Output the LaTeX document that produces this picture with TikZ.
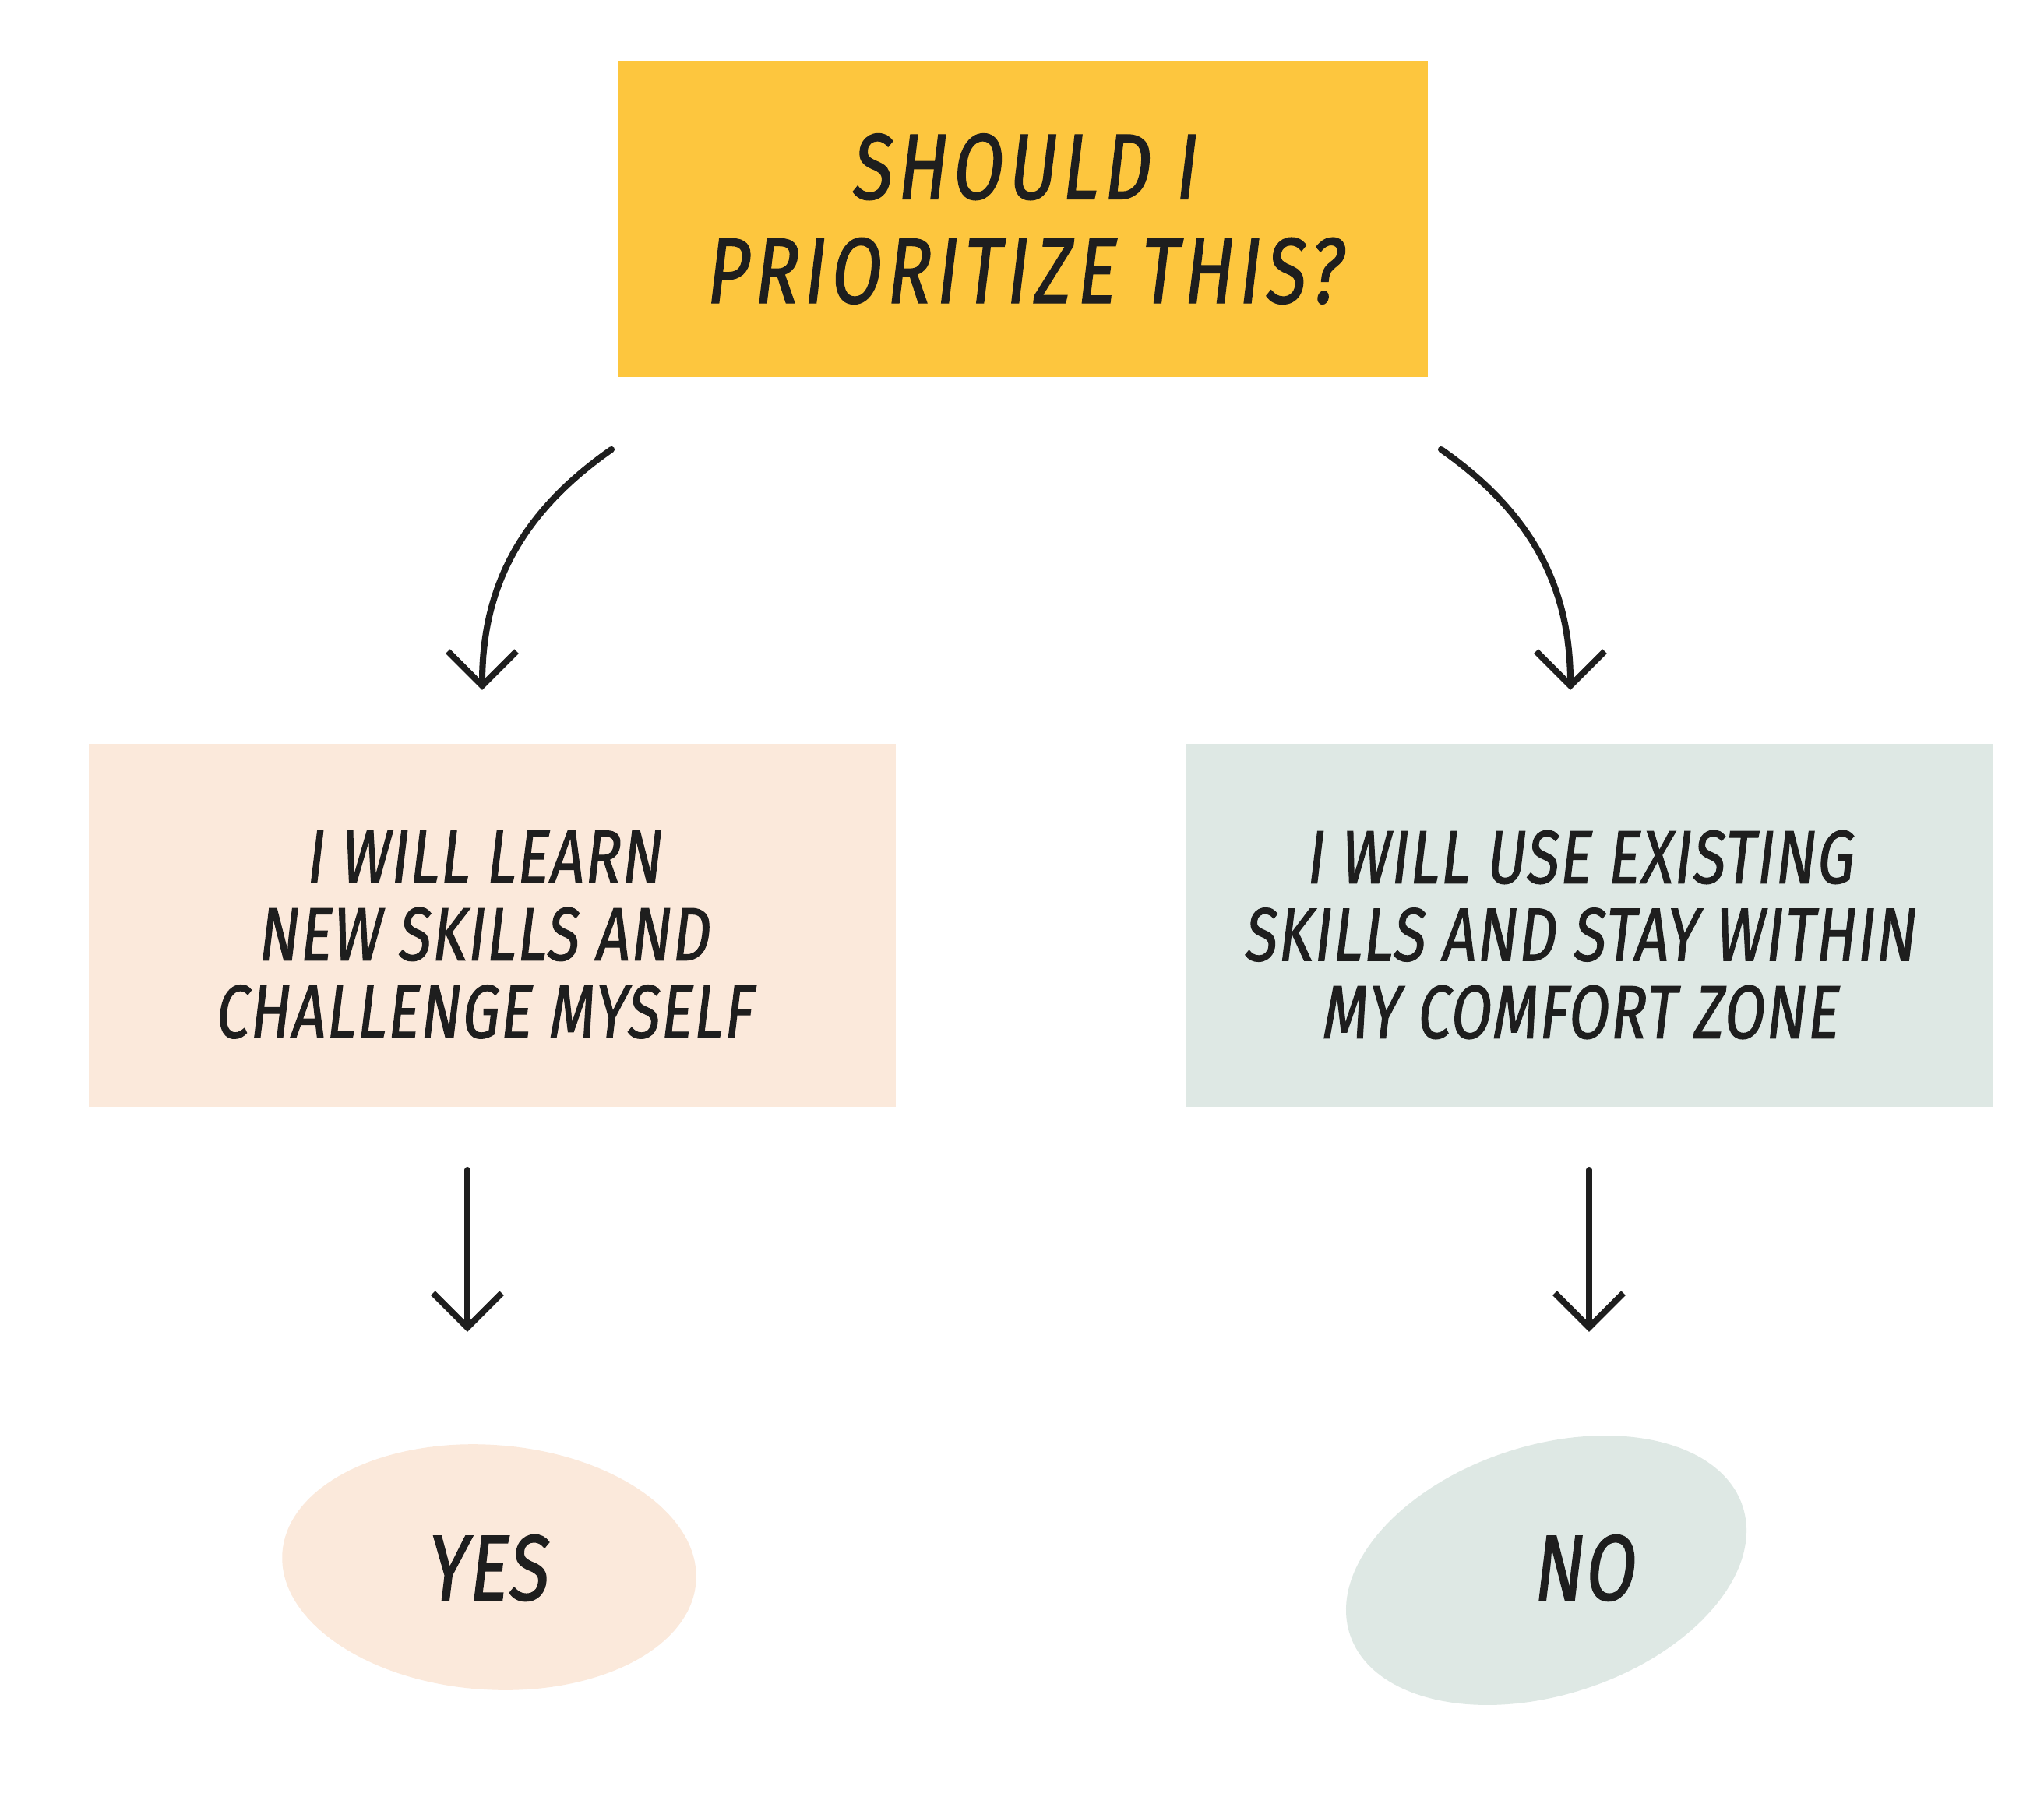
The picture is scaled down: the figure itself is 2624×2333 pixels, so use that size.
\documentclass[tikz,border=0pt]{standalone}
\usepackage{fontspec}
\usetikzlibrary{arrows.meta,shapes.geometric}
\newfontfamily\handfont{Fira Sans}[FakeSlant=0.12,FakeStretch=0.78,LetterSpace=6,FakeBold=1.2]
\newfontfamily\cardfont{Fira Sans}[FakeSlant=0.12,FakeStretch=0.78,LetterSpace=1.8,FakeBold=1.2]
\definecolor{qyellow}{RGB}{253,198,62}
\definecolor{qpeach}{RGB}{251,233,219}
\definecolor{qmint}{RGB}{222,232,228}
\definecolor{qink}{RGB}{30,30,30}
\tikzset{
  card/.style={rectangle, inner sep=0pt},
  cardtext/.style={align=center, text=qink, inner sep=0pt,
    font=\cardfont\fontsize{27.5}{28.3}\selectfont},
  blob/.style={ellipse, inner sep=0pt},
  blobtext/.style={text=qink, inner sep=0pt, font=\cardfont\fontsize{34}{40}\selectfont},
  flow/.style={draw=qink, line width=2.3pt, line cap=round,
    -{Straight Barb[length=4.4mm,width=8.8mm,line width=2.3pt]}}
}
\begin{document}
\begin{tikzpicture}[x=0.01cm,y=-0.01cm]
\useasboundingbox (0,0) rectangle (2624,2333);
\fill[white] (0,0) rectangle (2624,2333);
% top question
\node[card, fill=qyellow, minimum width=10.40cm, minimum height=4.05cm,
  align=center, text=qink, font=\handfont\fontsize{34}{38}\selectfont] (q) at (1313,281)
  {SHOULD I\\PRIORITIZE THIS?};
% answer cards
\node[card, fill=qpeach, minimum width=10.36cm, minimum height=4.66cm] (l) at (632,1188) {};
\node[cardtext] (lt) at (620,1200) {I WILL LEARN\\NEW SKILLS AND\\CHALLENGE MYSELF};
\node[card, fill=qmint, minimum width=10.36cm, minimum height=4.66cm] (r) at (2040,1188) {};
\node[cardtext] (rt) at (2027,1200) {I WILL USE EXISTING\\SKILLS AND STAY WITHIN\\MY COMFORT ZONE};
% outcomes
\node[blob, fill=qpeach, minimum width=5.32cm, minimum height=3.14cm, rotate=-4] (yes) at (628,2012) {};
\node[blobtext] (yest) at (624,2013) {YES};
\node[blob, fill=qmint, minimum width=5.3cm, minimum height=3.2cm, rotate=18] (no) at (1985,2016) {};
\node[blobtext] (not) at (2032,2013) {NO};
% connector end points
\coordinate (la) at (785,577);
\coordinate (lb) at (619,886);
\coordinate (ra) at (1850,577);
\coordinate (rb) at (2016,886);
\coordinate (lc) at (600,1502);
\coordinate (ld) at (600,1710);
\coordinate (rc) at (2040,1502);
\coordinate (rd) at (2040,1710);
\draw[flow] (la) to[out=-145,in=90] (lb);
\draw[flow] (ra) to[out=-35,in=90] (rb);
\draw[flow] (lc) -- (ld);
\draw[flow] (rc) -- (rd);
\end{tikzpicture}
\end{document}
